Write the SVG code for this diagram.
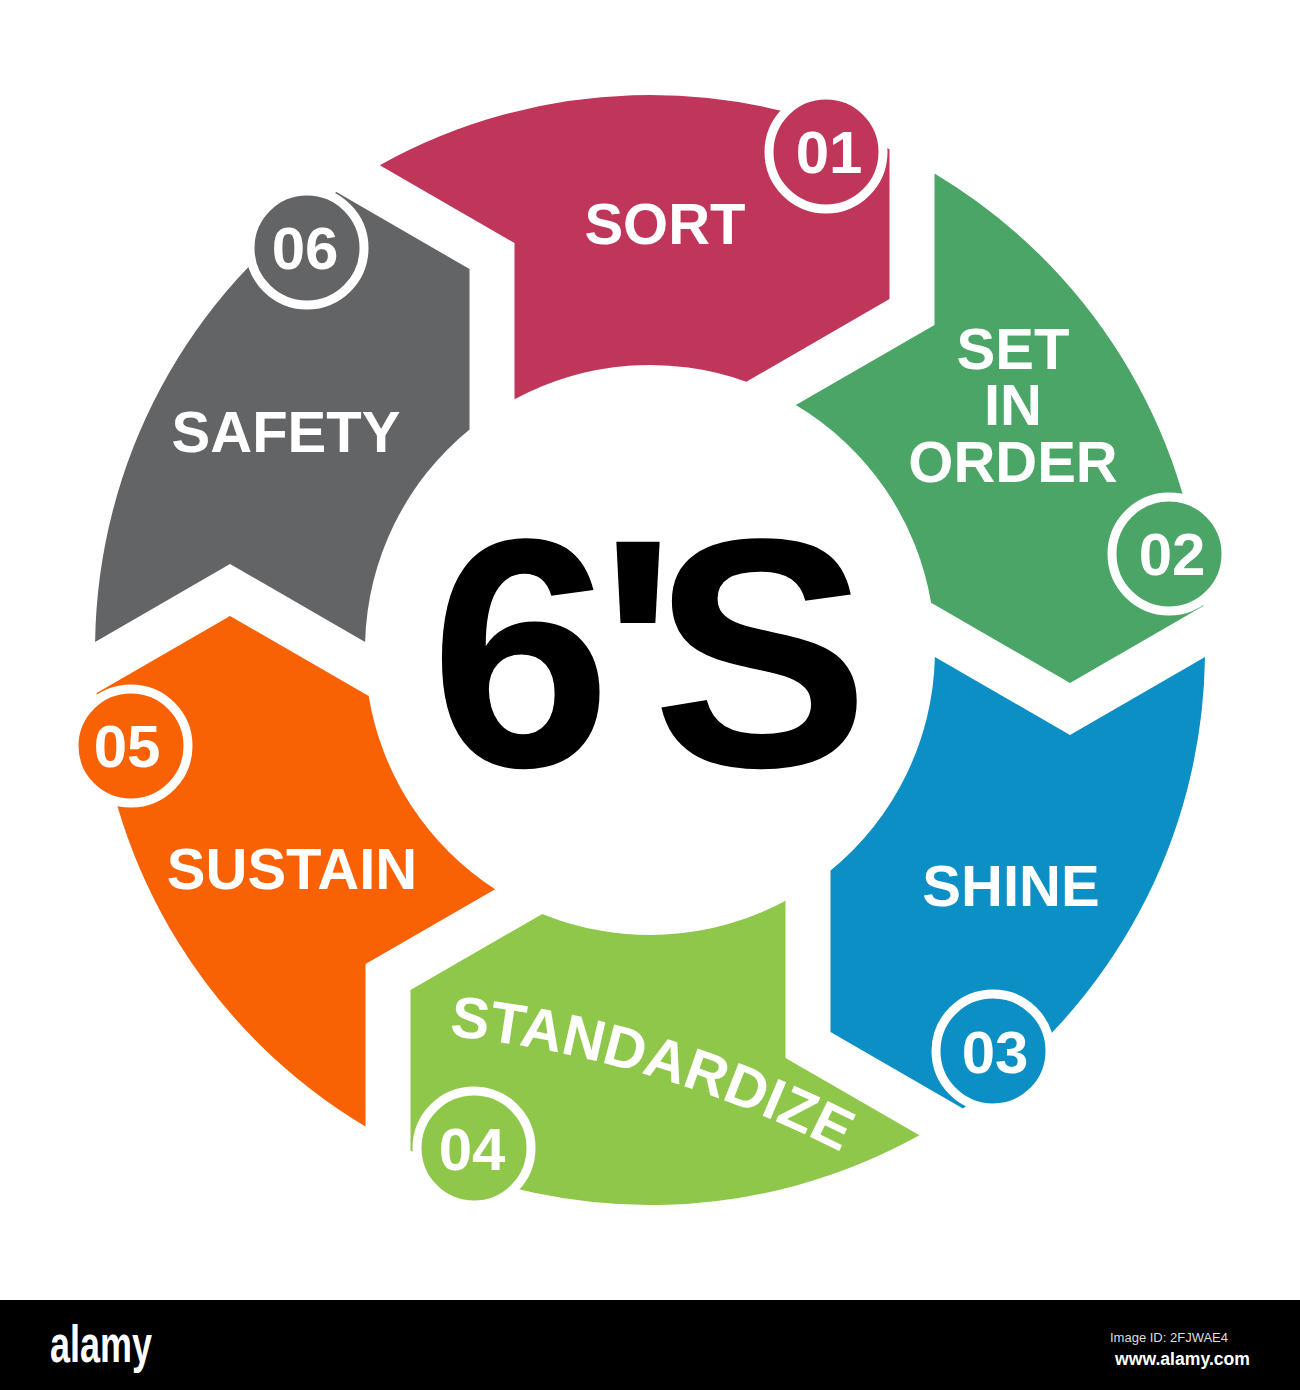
<svg xmlns="http://www.w3.org/2000/svg" width="1300" height="1390" viewBox="0 0 1300 1390">
<defs>
<style>
.lbl{font-family:"Liberation Sans",Arial,sans-serif;font-weight:bold;fill:#fff;font-size:58px;text-anchor:middle}
.num{font-family:"Liberation Sans",Arial,sans-serif;font-weight:bold;fill:#fff;font-size:60px;text-anchor:middle}
.badge{stroke:#fff;stroke-width:9}
</style>
<path id="stdPath" d="M 449,1036 A 1100 1100 0 0 1 856,1160"/>
</defs>
<rect x="0" y="0" width="1300" height="1390" fill="#fff"/>

<g id="sort">
<path fill="#C0355A" d="M 379.8,165.2 A 555 555 0 0 1 889.5,149.3 L 889.5,299 L 746.3,381.7 A 285 285 0 0 0 514.5,399.3 L 514.5,243 Z"/>
<text class="lbl" x="665" y="244">SORT</text>
<circle class="badge" cx="826" cy="152" r="57" fill="#C0355A"/>
<text class="num" x="829" y="173">01</text>
</g>

<g id="set-in-order">
<path fill="#4BA566" d="M 934.5,173.5 A 555 555 0 0 1 1203.3,606 L 1070,683 L 931.1,602.8 A 285 285 0 0 0 795.8,405.1 L 934.5,325 Z"/>
<text class="lbl" x="1013" y="369">SET</text>
<text class="lbl" x="1013" y="425">IN</text>
<text class="lbl" x="1013" y="482">ORDER</text>
<circle class="badge" cx="1169" cy="554" r="57" fill="#4BA566"/>
<text class="num" x="1172" y="575">02</text>
</g>

<g id="shine">
<path fill="#0B8FC4" d="M 1205,657.1 A 555 555 0 0 1 962.9,1108.4 L 830.5,1032 L 830.5,870.6 A 285 285 0 0 0 934.9,657 L 1070,735 Z"/>
<text class="lbl" x="1011" y="906">SHINE</text>
<circle class="badge" cx="993" cy="1051" r="57" fill="#0B8FC4"/>
<text class="num" x="995" y="1073">03</text>
</g>

<g id="standardize">
<path fill="#8FC74A" d="M 919.4,1135.3 A 555 555 0 0 1 410.5,1150.7 L 410.5,990 L 542.3,913.9 A 285 285 0 0 0 785.5,900.7 L 785.5,1058 Z"/>
<text class="lbl" style="text-anchor:start"><textPath href="#stdPath">STANDARDIZE</textPath></text>
<circle class="badge" cx="474" cy="1148" r="57" fill="#8FC74A"/>
<text class="num" x="472" y="1170">04</text>
</g>

<g id="sustain">
<path fill="#F86204" d="M 365.5,1126.5 A 555 555 0 0 1 96.7,693 L 230,616 L 368.7,696.1 A 285 285 0 0 0 495.1,889.2 L 365.5,964 Z"/>
<text class="lbl" x="292" y="889">SUSTAIN</text>
<circle class="badge" cx="131" cy="746" r="57" fill="#F86204"/>
<text class="num" x="127" y="767">05</text>
</g>

<g id="safety">
<path fill="#636466" d="M 95.1,641.9 A 555 555 0 0 1 336.4,192.1 L 469.5,269 L 469.5,429.4 A 285 285 0 0 0 365.1,642 L 230,564 Z"/>
<text class="lbl" x="286" y="452">SAFETY</text>
<circle class="badge" cx="307" cy="248" r="57" fill="#636466"/>
<text class="num" x="305" y="269">06</text>
</g>

<g id="title">
<text x="430 599 652" y="766" font-family="Liberation Sans, Arial, sans-serif" font-weight="bold" font-size="326" fill="#000">6'S</text>
</g>

<g id="footer">
<rect x="0" y="1300" width="1300" height="90" fill="#000"/>
<text x="50" y="1362" font-family="Liberation Sans, Arial, sans-serif" font-weight="bold" font-size="52" fill="#fff" textLength="102" lengthAdjust="spacingAndGlyphs">alamy</text>
<text x="1228" y="1342" font-family="Liberation Sans, Arial, sans-serif" font-size="13" fill="#ddd" text-anchor="end">Image ID: 2FJWAE4</text>
<text x="1250" y="1365" font-family="Liberation Sans, Arial, sans-serif" font-weight="bold" font-size="18" fill="#fff" text-anchor="end" textLength="135" lengthAdjust="spacingAndGlyphs">www.alamy.com</text>
</g>
</svg>
